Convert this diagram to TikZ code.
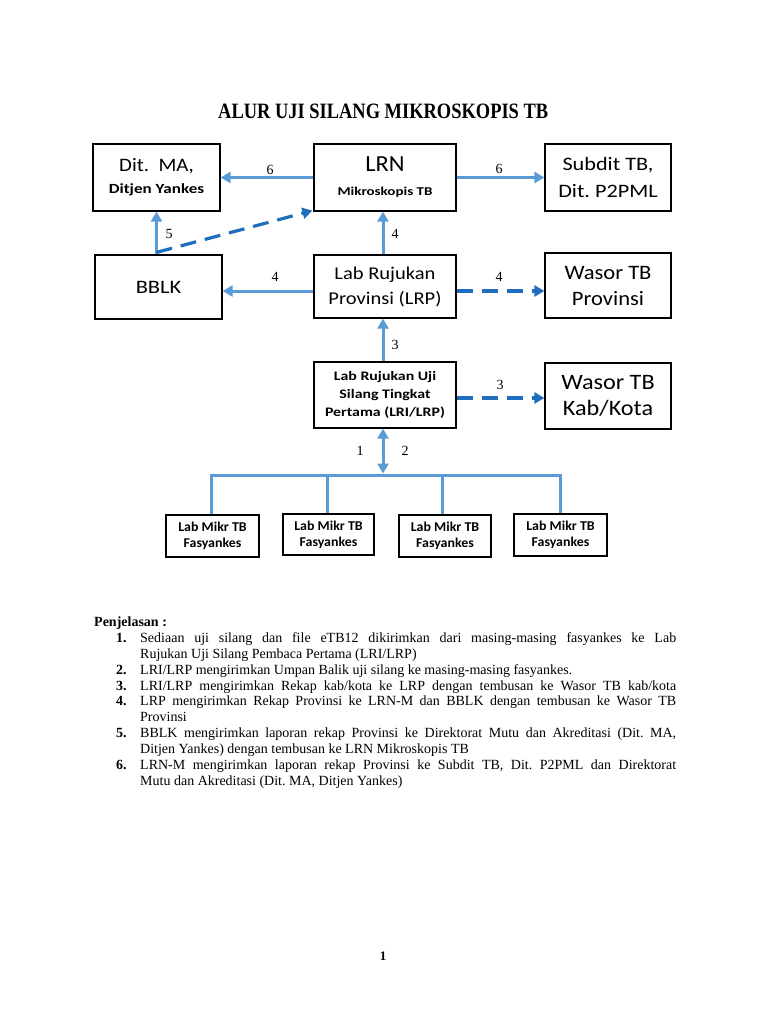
\documentclass[tikz,border=0pt]{standalone}
\usepackage{fontspec}
\setmainfont{Liberation Serif}
\newfontfamily\boxfont{Carlito}
\usetikzlibrary{arrows.meta,calc}
\frenchspacing

\definecolor{solblue}{RGB}{91,155,213}
\definecolor{dashblue}{RGB}{31,110,190}

\tikzset{
  bx/.style={draw=black, line width=1.2pt, inner sep=0pt, align=center},
  fs/.style n args={3}{font=\boxfont\fontsize{#1}{#2}\selectfont\addfontfeature{FakeStretch=#3}},
  fsb/.style n args={3}{font=\boxfont\fontsize{#1}{#2}\selectfont\bfseries\addfontfeature{FakeStretch=#3}},
  tip/.tip={Triangle[length=10pt,width=11pt]},
  sol/.style={draw=solblue, line width=3pt, -tip},
  dsh/.style={draw=dashblue, line width=3.2pt, dash pattern=on 16pt off 9pt, -tip},
  bus/.style={draw=solblue, line width=3pt},
  lbl/.style={font=\fontsize{14}{14}\selectfont, inner sep=0pt},
  body/.style={font=\fontsize{14}{16}\selectfont, inner sep=0pt, anchor=base west},
}

\begin{document}
\begin{tikzpicture}[x=1pt,y=-1pt]
\fill[white] (0,0) rectangle (768,1024);
\useasboundingbox (0,0) rectangle (768,1024);

% title
\node[anchor=base west, inner sep=0pt] (title) at (218,118.5)
  {\resizebox{330pt}{14.5pt}{\bfseries ALUR UJI SILANG MIKROSKOPIS TB}};

% boxes
\node[bx, fsb={14}{21}{1.22}, minimum width=127pt, minimum height=67pt] (dit) at (156.5,177.5)
  {{\mdseries\fontsize{19}{21}\selectfont\addfontfeature{FakeStretch=1.1}Dit.\ \ MA,}\\[1pt]Ditjen Yankes};
\node[bx, fsb={12}{20}{1.25}, minimum width=142pt, minimum height=67pt] (lrn) at (385,177.5)
  {{\mdseries\fontsize{23}{20}\selectfont\addfontfeature{FakeStretch=1.06}LRN}\\[4pt]Mikroskopis TB};
\node[bx, fs={19}{27}{1.17}, minimum width=126pt, minimum height=67pt] (sub) at (608,177.5)
  {Subdit TB,\\Dit. P2PML};
\node[bx, fs={19}{22}{1.18}, minimum width=127pt, minimum height=64pt] (bblk) at (158.5,287)
  {BBLK};
\node[bx, fs={18}{25}{1.14}, minimum width=142pt, minimum height=63pt] (lrp) at (385,286.5)
  {Lab Rujukan\\Provinsi (LRP)};
\node[bx, fs={20.5}{26}{1.1}, minimum width=126pt, minimum height=65pt] (wprov) at (608,285.5)
  {Wasor TB\\Provinsi};
\node[bx, fsb={13}{17.8}{1.22}, minimum width=142pt, minimum height=66pt] (lri) at (385,395)
  {Lab Rujukan Uji\\Silang Tingkat\\Pertama (LRI/LRP)};
\node[bx, fs={22}{25.7}{1.1}, minimum width=126pt, minimum height=66pt] (wkab) at (608,396)
  {Wasor TB\\Kab/Kota};

\tikzset{fb/.style={bx, fsb={13.5}{16}{1.03}}}
\node[fb, minimum width=93pt, minimum height=42pt] (f1) at (212.5,536) {Lab Mikr TB\\Fasyankes};
\node[fb, minimum width=91pt, minimum height=41pt] (f2) at (328.5,534.5) {Lab Mikr TB\\Fasyankes};
\node[fb, minimum width=92pt, minimum height=42pt] (f3) at (445,536) {Lab Mikr TB\\Fasyankes};
\node[fb, minimum width=93pt, minimum height=42pt] (f4) at (560.5,535) {Lab Mikr TB\\Fasyankes};

% connectors
\draw[sol] (lrn.west) -- (dit.east);
\draw[sol] (lrn.east) -- (sub.west);
\draw[sol] ([xshift=-2pt]lrp.north) -- ([xshift=-2pt]lrn.south);
\coordinate (b5) at (dit.south |- bblk.north);
\draw[sol] (b5) -- (dit.south);
\draw[dsh] ([yshift=2pt]b5) -- ([xshift=-1pt,yshift=1pt]lrn.south west);
\draw[sol] ([yshift=-4.5pt]lrp.west) -- ([yshift=-4.5pt]lrp.west -| bblk.east);
\draw[dsh] ([yshift=-4.5pt]lrp.east) -- ([yshift=-4.5pt]lrp.east -| wprov.west);
\draw[sol] ([xshift=-2pt]lri.north) -- ([xshift=-2pt]lrp.south);
\draw[dsh] ([yshift=-3pt]lri.east) -- ([yshift=-3pt]lri.east -| wkab.west);

\coordinate (busmid) at (383,475);
\draw[sol, tip-tip] ([xshift=-2pt]lri.south) -- ([yshift=1.5pt]busmid);
\draw[bus] ([xshift=-1.5pt]f1.north) -- ([xshift=-1.5pt]f1.north |- busmid) -- (f4.north |- busmid) -- (f4.north);
\draw[bus] ([xshift=-1.5pt]f2.north) -- ([xshift=-1.5pt]f2.north |- busmid);
\draw[bus] ([xshift=-3pt]f3.north) -- ([xshift=-3pt]f3.north |- busmid);

% labels
\node[lbl] (l6a) at (270,169.5) {6};
\node[lbl] (l6b) at (499,168.5) {6};
\node[lbl] (l4a) at (395,234) {4};
\node[lbl] (l5)  at (169,234) {5};
\node[lbl] (l4b) at (275,276.5) {4};
\node[lbl] (l4c) at (499,276.5) {4};
\node[lbl] (l3a) at (395,345) {3};
\node[lbl] (l3b) at (500,385) {3};
\node[lbl] (l1)  at (360,451) {1};
\node[lbl] (l2)  at (405,451) {2};

% explanation
\node[body] (pj) at (94,626) {\bfseries Penjelasan :};
\node[body] (n1) at (116,642) {\bfseries 1.};
\node[body] (t1a) at (140,642) {\makebox[536pt][s]{Sediaan uji silang dan file eTB12 dikirimkan dari masing-masing fasyankes ke Lab}};
\node[body] (t1b) at (140,658) {Rujukan Uji Silang Pembaca Pertama (LRI/LRP)};
\node[body] (n2) at (116,674) {\bfseries 2.};
\node[body] (t2) at (140,674) {LRI/LRP mengirimkan Umpan Balik uji silang ke masing-masing fasyankes.};
\node[body] (n3) at (116,690) {\bfseries 3.};
\node[body] (t3) at (140,690) {\makebox[536pt][s]{LRI/LRP mengirimkan Rekap kab/kota ke LRP dengan tembusan ke Wasor TB kab/kota}};
\node[body] (n4) at (116,705) {\bfseries 4.};
\node[body] (t4a) at (140,705) {\makebox[536pt][s]{LRP mengirimkan Rekap Provinsi ke LRN-M dan BBLK dengan tembusan ke Wasor TB}};
\node[body] (t4b) at (140,721) {Provinsi};
\node[body] (n5) at (116,737) {\bfseries 5.};
\node[body] (t5a) at (140,737) {\makebox[536pt][s]{BBLK mengirimkan laporan rekap Provinsi ke Direktorat Mutu dan Akreditasi (Dit. MA,}};
\node[body] (t5b) at (140,753) {Ditjen Yankes) dengan tembusan ke LRN Mikroskopis TB};
\node[body] (n6) at (116,769) {\bfseries 6.};
\node[body] (t6a) at (140,769) {\makebox[536pt][s]{LRN-M mengirimkan laporan rekap Provinsi ke Subdit TB, Dit. P2PML dan Direktorat}};
\node[body] (t6b) at (140,785) {Mutu dan Akreditasi (Dit. MA, Ditjen Yankes)};

\node[anchor=base, inner sep=0pt, font=\fontsize{13}{13}\selectfont\bfseries] (pg) at (383,960) {1};
\end{tikzpicture}
\end{document}
